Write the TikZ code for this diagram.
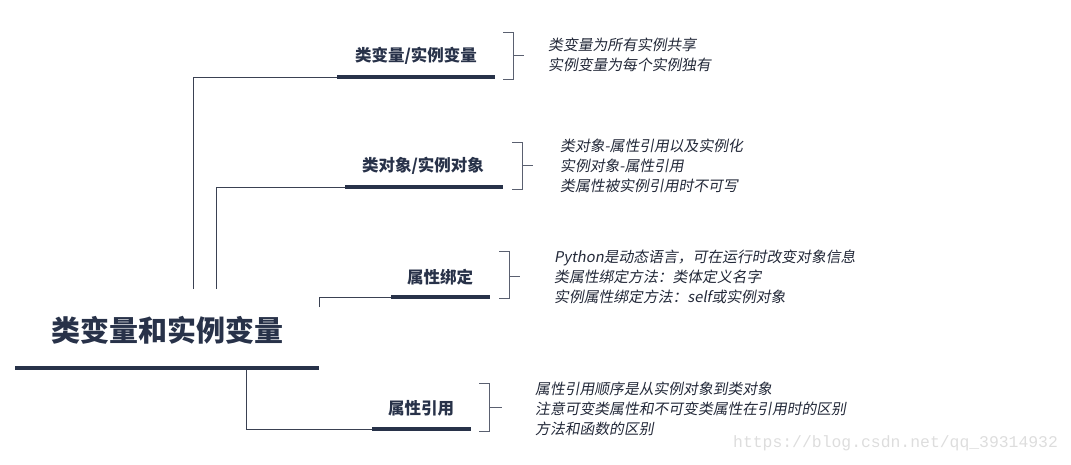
\documentclass[tikz,border=0pt]{standalone}
\usepackage{fontspec}
\newfontfamily\cjk{Noto Sans CJK SC}
\newfontfamily\cjkit[FakeSlant=0.18]{Noto Sans CJK SC}
\newfontfamily\wmfont{Liberation Mono}
\definecolor{navy}{HTML}{283249}
\definecolor{linec}{HTML}{3A4152}
\definecolor{brkc}{HTML}{5A6070}
\definecolor{desc}{HTML}{222838}
\definecolor{wmc}{HTML}{DDDDDD}
\tikzset{
  title/.style={font=\cjk\bfseries\fontsize{16.5}{20}\selectfont, text=navy, inner sep=0pt},
  bar/.style={fill=navy, inner sep=0pt, minimum height=4pt},
  conn/.style={draw=linec, line width=1pt},
  brk/.style={draw=brkc, line width=1pt},
  descr/.style={font=\cjkit\fontsize{14.8}{20.3}\selectfont, text=desc, align=left, anchor=west, inner sep=0pt},
}
\begin{document}
\begin{tikzpicture}[x=1pt,y=-1pt]
\useasboundingbox (0,0) rectangle (1071,464);
% main
\node[font=\cjk\bfseries\fontsize{29}{32}\selectfont, text=navy, inner sep=0pt] (main) at (167,330) {类变量和实例变量};
\node[bar, minimum width=304pt] (mb) at (167,368) {};
% titles and bars
\node[title] (t1) at (416,56) {类变量/实例变量};
\node[bar, minimum width=158pt] (b1) at (416,77) {};
\node[title] (t2) at (423,166) {类对象/实例对象};
\node[bar, minimum width=158pt] (b2) at (424,187) {};
\node[title] (t3) at (440,277) {属性绑定};
\node[bar, minimum width=99pt] (b3) at (440.5,297) {};
\node[title] (t4) at (421,408) {属性引用};
\node[bar, minimum width=99pt] (b4) at (421.5,429) {};
% connectors
\coordinate (s1) at (193,289);
\coordinate (s2) at (216,289);
\coordinate (s3) at (319,307);
\coordinate (s4) at (246,370);
\draw[conn] (s1) |- (b1.west);
\draw[conn] (s2) |- (b2.west);
\draw[conn] (s3) |- (b3.west);
\draw[conn] (s4) |- (b4.west);
% brackets
\draw[brk] (503,32) -- (513,32) -- (513,79) -- (503,79);
\draw[brk] (513,55) -- (524,55);
\draw[brk] (512,142) -- (522,142) -- (522,189) -- (512,189);
\draw[brk] (522,165) -- (533,165);
\draw[brk] (499,251) -- (509,251) -- (509,298) -- (499,298);
\draw[brk] (509,276) -- (520,276);
\draw[brk] (479,383) -- (489,383) -- (489,431) -- (479,431);
\draw[brk] (489,407) -- (502,407);
% descriptions
\node[descr] (d1) at (548,55) {类变量为所有实例共享\\实例变量为每个实例独有};
\node[descr] (d2) at (560,166) {类对象-属性引用以及实例化\\实例对象-属性引用\\类属性被实例引用时不可写};
\node[descr] (d3) at (554,277) {Python是动态语言，可在运行时改变对象信息\\类属性绑定方法：类体定义名字\\实例属性绑定方法：self或实例对象};
\node[descr] (d4) at (535,409) {属性引用顺序是从实例对象到类对象\\注意可变类属性和不可变类属性在引用时的区别\\方法和函数的区别};
% watermark
\node[font=\wmfont\fontsize{16.4}{18}\selectfont, text=wmc, anchor=west, inner sep=0pt] (wm) at (733,443) {https://blog.csdn.net/qq\_39314932};
\end{tikzpicture}
\end{document}
